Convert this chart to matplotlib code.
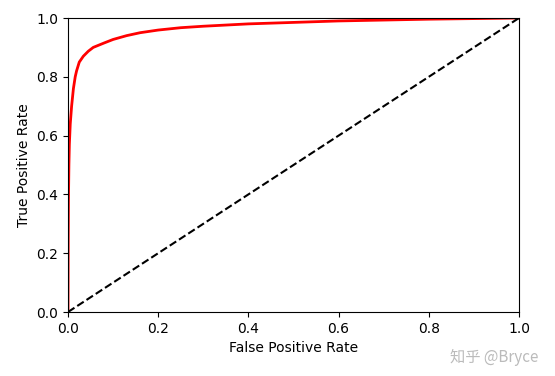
import matplotlib
matplotlib.use("Agg")
import matplotlib.pyplot as plt

plt.rcParams['font.family'] = ['DejaVu Sans', 'Noto Sans CJK SC']

fpr = [0.0, 0.0005, 0.001, 0.002, 0.003, 0.005, 0.008, 0.012, 0.016, 0.019, 0.025, 0.034,
       0.045, 0.056, 0.08, 0.10, 0.13, 0.16, 0.2, 0.25, 0.3, 0.4, 0.5, 0.6, 0.7, 0.8, 0.9, 1.0]
tpr = [0.0, 0.25, 0.38, 0.50, 0.57, 0.64, 0.70, 0.76, 0.80, 0.82, 0.85, 0.87,
       0.887, 0.90, 0.915, 0.927, 0.940, 0.950, 0.959, 0.967, 0.972, 0.980, 0.985, 0.990, 0.993, 0.996, 0.998, 1.0]

xlabel = "False Positive Rate"
ylabel = "True Positive Rate"
watermark = "知乎 @Bryce"

fig = plt.figure(figsize=(5.55, 3.76), dpi=100)
ax = fig.add_axes([68/555, 1 - 312/376, (519-68)/555, (312-18)/376])
ax.plot(fpr, tpr, color='red', linewidth=2)
ax.plot([0, 1], [0, 1], 'k--')
ax.set_xlim(0, 1)
ax.set_ylim(0, 1)
ax.set_xlabel(xlabel)
ax.set_ylabel(ylabel)
fig.text(0.97, 0.05, watermark, ha='right', va='center', fontsize=11, color='#bbbbbb',
         family=['Noto Sans CJK SC', 'DejaVu Sans'])
fig.savefig("out.png", dpi=100)
